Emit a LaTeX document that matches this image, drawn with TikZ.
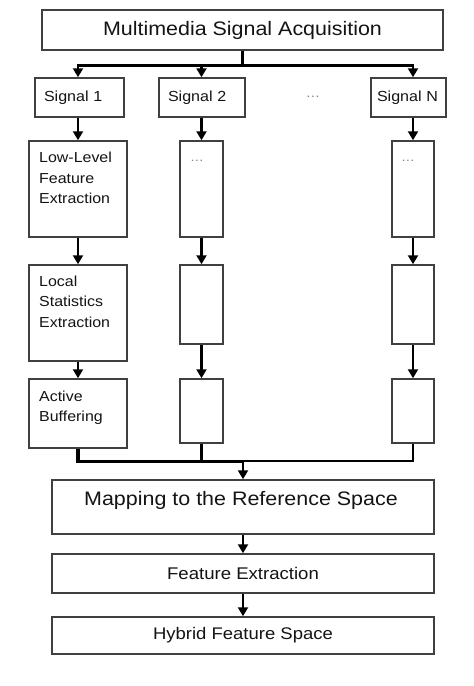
\documentclass[tikz,border=0pt]{standalone}
\usepackage{fontspec}
\newfontfamily\lsans[FakeStretch=1.1]{Liberation Sans}
\usetikzlibrary{arrows.meta}
\begin{document}
\begin{tikzpicture}[x=1pt,y=-1pt,
  box/.style={draw=black!75, line width=1.5pt, inner sep=0pt, fill=white},
  arr/.style={line width=2.8pt, -{Triangle[width=10pt,length=9pt]}},
  ln/.style={line width=2.8pt},
  txt/.style={inner sep=0pt, text=black!92},
  dots/.style={inner sep=0pt, text=black!50},
  sig/.style={box, align=left, inner xsep=9pt, inner ysep=0pt, minimum height=39pt,
    text=black!92, font=\lsans\fontsize{14.6}{17}\selectfont},
  coltxt/.style={txt, anchor=north west, align=left, font=\lsans\fontsize{14.5}{20.5}\selectfont}]
\useasboundingbox[fill=white] (0,0) rectangle (474,686);

% title
\node[box, minimum width=401pt, minimum height=40pt, text=black!92,
  font=\lsans\fontsize{19.5}{23}\selectfont] (title) at (242.5,30) {Multimedia Signal Acquisition};

% signal row
\node[sig, text width=71pt] (s1) at (79.5,97.5) {Signal 1};
\node[sig, text width=68pt] (s2) at (202,97.5) {Signal 2};
\node[sig, text width=63pt, inner xsep=6pt] (sN) at (408.5,97.5) {Signal N};
\node[dots, font=\lsans\fontsize{13}{15}\selectfont] (rowdots) at (313,97) {\dots};

% column 1
\node[box, minimum width=98pt, minimum height=96pt] (low) at (78,189) {};
\node[box, minimum width=98pt, minimum height=96pt] (loc) at (78,313) {};
\node[box, minimum width=98pt, minimum height=69pt] (act) at (78,413.5) {};
\node[coltxt] (lowt) at (39,152) {Low-Level\\Feature\\Extraction};
\node[coltxt] (loct) at (39,275.5) {Local\\Statistics\\Extraction};
\node[coltxt] (actt) at (39,390.5) {Active\\Buffering};

% column 2
\node[box, minimum width=43pt, minimum height=96pt] (c2a) at (201.5,189) {};
\node[box, minimum width=43pt, minimum height=79pt] (c2b) at (201.5,304.5) {};
\node[box, minimum width=43pt, minimum height=64pt] (c2c) at (201.5,411) {};
\node[dots, anchor=base west, font=\lsans\fontsize{12.5}{14}\selectfont] (c2d) at (190,161) {\dots};

% column N
\node[box, minimum width=42pt, minimum height=96pt] (cNa) at (413,189) {};
\node[box, minimum width=42pt, minimum height=79pt] (cNb) at (413,304.5) {};
\node[box, minimum width=42pt, minimum height=64pt] (cNc) at (413,411) {};
\node[dots, anchor=base west, font=\lsans\fontsize{12.5}{14}\selectfont] (cNd) at (401,161) {\dots};

% bottom boxes
\node[box, minimum width=382pt, minimum height=54pt] (map) at (243,507) {};
\node[txt, anchor=base, font=\lsans\fontsize{19.5}{23}\selectfont] (mapt) at (241,505.7) {Mapping to the Reference Space};
\node[box, minimum width=382pt, minimum height=39pt, text=black!92,
  font=\lsans\fontsize{16.9}{20}\selectfont] (fe) at (243,573.5) {Feature Extraction};
\node[box, minimum width=382pt, minimum height=37pt, text=black!92,
  font=\lsans\fontsize{16.8}{20}\selectfont] (hy) at (243,635.5) {Hybrid Feature Space};

% top distribution
\coordinate (hub) at ([yshift=-15pt]title.south);
\draw[ln] (title.south) -- (hub);
\draw[ln, line cap=rect] (low.north |- hub) -- (cNa.north |- hub);
\draw[arr] (low.north |- hub) -- (low.north |- s1.north);
\draw[arr] (c2a.north |- hub) -- (c2a.north |- s2.north);
\draw[arr] (cNa.north |- hub) -- (cNa.north |- sN.north);

% signal to columns
\draw[arr] (low.north |- s1.south) -- (low.north);
\draw[arr] (c2a.north |- s2.south) -- (c2a.north);
\draw[arr] (cNa.north |- sN.south) -- (cNa.north);

% within columns
\draw[arr] (low.south) -- (loc.north);
\draw[arr] (loc.south) -- (act.north);
\draw[arr] (c2a.south) -- (c2b.north);
\draw[arr] (c2b.south) -- (c2c.north);
\draw[arr] (cNa.south) -- (cNb.north);
\draw[arr] (cNb.south) -- (cNc.north);

% merge
\coordinate (m) at ([yshift=18pt]map.north);
\draw[line width=2.2pt] (c2c.south) -- (c2c.south |- m) -- (cNc.south |- m) -- (cNc.south);
\draw[line width=3.4pt] (act.south) |- (m);
\draw[arr] (m) -- (map.north);
\draw[arr] (map.south) -- (fe.north);
\draw[arr] (fe.south) -- (hy.north);
\end{tikzpicture}
\end{document}
